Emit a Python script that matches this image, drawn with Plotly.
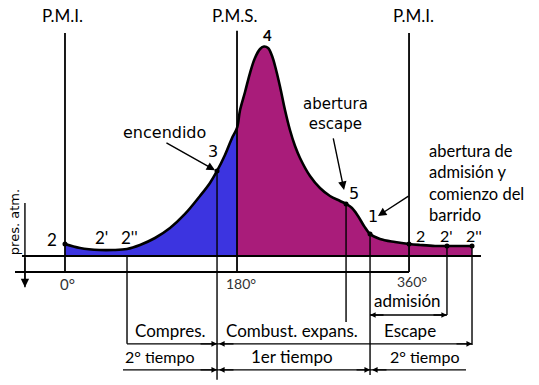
import plotly.graph_objects as go

# ---- data: crank angle (deg) vs pressure (arbitrary units above atmospheric) ----
angle_compression = [0, 15.7, 36.6, 50.2, 64.9, 78.5, 94.2, 109.9, 125.6, 141.3,
                     151.7, 159.1, 167.4, 174.8, 180]
press_compression = [2.31, 1.54, 1.15, 1.15, 1.35, 2.12, 3.46, 5.38, 8.08, 11.54,
                     14.04, 16.35, 19.42, 22.69, 24.62]
angle_expansion = [180, 183.2, 188.4, 193.6, 198.8, 204.1, 208.3, 212.5, 216.7, 220.9,
                   225.1, 230.2, 235.4, 240.7, 245.9, 256.4, 266.8, 277.3, 287.8,
                   294.1, 300.3, 306.6, 312.9, 319.2, 329.6, 345.3, 360, 371.5,
                   387.2, 399.7, 413.4, 425.9]
press_expansion = [24.62, 28.08, 31.54, 35.19, 38.08, 39.81, 40.29, 40.0, 38.46, 35.77,
                   32.5, 28.08, 24.23, 21.15, 18.85, 15.38, 13.08, 11.54, 10.58,
                   10.0, 9.23, 7.69, 5.77, 4.23, 3.27, 2.69, 2.31, 2.12,
                   1.92, 1.92, 1.92, 1.92]

# key points on the curve
point_angles = [0, 159.1, 294.1, 319.2, 360, 399.7, 425.9]
point_press = [2.31, 16.35, 10.0, 4.23, 2.31, 1.92, 1.92]

BLUE = "#3c34e0"
MAGENTA = "#a91c7a"
FONT = "Lato"
GEO = "DejaVu Sans"

fig = go.Figure()
fig.add_trace(go.Scatter(x=angle_compression, y=press_compression, mode="lines",
                         line=dict(width=0), fill="tozeroy", fillcolor=BLUE,
                         hoverinfo="skip", showlegend=False))
fig.add_trace(go.Scatter(x=angle_expansion, y=press_expansion, mode="lines",
                         line=dict(width=0), fill="tozeroy", fillcolor=MAGENTA,
                         hoverinfo="skip", showlegend=False))
fig.add_trace(go.Scatter(x=angle_compression + angle_expansion[1:],
                         y=press_compression + press_expansion[1:],
                         mode="lines", line=dict(color="black", width=2.6, shape="spline"),
                         showlegend=False))
fig.add_trace(go.Scatter(x=point_angles, y=point_press, mode="markers",
                         marker=dict(color="black", size=5), showlegend=False))

def vline(x, y0, y1, w=1.4):
    fig.add_shape(type="line", xref="x", yref="y", x0=x, x1=x, y0=y0, y1=y1,
                  line=dict(color="black", width=w))

def hline(y, x0, x1, w=1.4):
    fig.add_shape(type="line", xref="x", yref="y", x0=x0, x1=x1, y0=y, y1=y,
                  line=dict(color="black", width=w))

# dead-centre lines
vline(0, 42.9, -3.08, 1.8)
vline(180, 43.3, -3.08, 1.8)
vline(360, 42.9, -3.08, 1.8)
# guide lines down to the phase brackets
vline(64.9, 0, -16.9)
vline(159.1, 16.35, -23.8)
vline(294.1, 10.0, -12.7)
vline(319.2, 4.23, -22.9)
vline(399.7, 1.92, -11.35)
vline(425.9, 1.92, -17.1)
# atmospheric-pressure reference arrow
vline(-41.9, 10.2, -6.0)
# horizontal lines
hline(0, -45, 435.3, 2.2)
hline(-3.08, -52.3, 360, 1.8)
hline(-16.9, 64.9, 425.9)
hline(-21.9, 60.7, 419.6)
hline(-11.35, 319.2, 399.7)

def txt(x, y, s, size=16, family=FONT, color="black", **kw):
    fig.add_annotation(x=x, y=y, xref="x", yref="y", text=s, showarrow=False,
                       font=dict(family=family, size=size, color=color), **kw)

txt(-3.1, 46.3, "P.M.I.", 17)
txt(177.9, 46.3, "P.M.S.", 17)
txt(364.2, 46.3, "P.M.I.", 17)
txt(211.4, 42.5, "<b>4</b>", 15)
txt(104.6, 23.8, "encendido", 16, GEO)
txt(154.9, 20.0, "3", 16, GEO)
txt(283.0, 27.4, "abertura<br>escape", 15, GEO)
txt(302.4, 12.1, "5", 16, GEO)
txt(322.3, 7.5, "1", 16, GEO)
txt(378.8, 14.1, "abertura de<br>admisión y<br>comienzo del<br>barrido", 16.5,
    xanchor="left", align="left")
txt(-13.6, 3.1, "2", 17)
txt(37.7, 3.65, "2'", 17)
txt(68, 3.65, "2''", 17)
txt(371.5, 3.9, "2", 16)
txt(399.7, 3.9, "2'", 16)
txt(428, 3.9, "2''", 16)
txt(-53.4, 6.5, "pres. atm.", 13, GEO, textangle=-90)
txt(3.1, -5.4, "0°", 15, color="#333")
txt(184.2, -5.2, "180°", 14, color="#333")
txt(363.1, -5.0, "360°", 14, color="#333")
txt(358.9, -8.5, "admisión", 17)
txt(110.9, -14.4, "Compres.", 17)
txt(237.5, -14.4, "Combust. expans.", 17)
txt(361, -14.4, "Escape", 17)
txt(99.4, -19.4, "2° tiempo", 16)
txt(237.5, -19.4, "1er tiempo", 17)
txt(376.7, -19.4, "2° tiempo", 16)

def arrow(x_tail, y_tail, x_head, y_head, size=1.2):
    fig.add_annotation(x=x_head, y=y_head, ax=x_tail, ay=y_tail, xref="x", yref="y",
                       axref="x", ayref="y", text="", showarrow=True, arrowhead=2,
                       arrowsize=size, arrowwidth=1.4, arrowcolor="black")

arrow(104.6, 21.9, 157, 16.5)
arrow(280.4, 22.9, 292, 12.7)
arrow(361, 11.7, 327.5, 7.7)
arrow(-41.9, 0, -41.9, -6.0)

# small dimension arrowheads on the phase brackets
arrow(140.3, -16.9, 159.1, -16.9, 0.8)
arrow(177.9, -16.9, 161.2, -16.9, 0.8)
arrow(140.3, -21.9, 159.1, -21.9, 0.8)
arrow(177.9, -21.9, 161.2, -21.9, 0.8)
arrow(303.5, -21.9, 319.2, -21.9, 0.8)
arrow(338.0, -21.9, 321.3, -21.9, 0.8)
arrow(408.1, -16.9, 425.9, -16.9, 0.8)
arrow(334.9, -11.35, 319.2, -11.35, 0.8)
arrow(384.0, -11.35, 399.7, -11.35, 0.8)

fig.update_layout(width=539, height=385, margin=dict(l=0, r=0, t=0, b=0),
                  paper_bgcolor="white", plot_bgcolor="white",
                  xaxis=dict(range=[-68.0, 496.0], visible=False),
                  yaxis=dict(range=[-24.81, 49.23], visible=False))
fig.write_html("out.html", config={"displayModeBar": False},
               post_script="document.body.style.margin='0px';")
